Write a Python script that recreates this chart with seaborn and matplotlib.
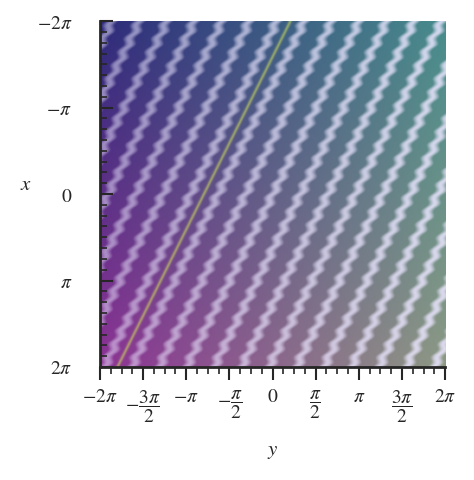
import numpy as np
import matplotlib
matplotlib.use("Agg")
import matplotlib.pyplot as plt
import seaborn as sns

sns.set_style("ticks")
plt.rcParams["font.family"] = ["Liberation Serif", "DejaVu Serif"]
plt.rcParams["mathtext.fontset"] = "stix"

# corner colours (top-left, top-right, bottom-left, bottom-right)
corner_tl = [0.18, 0.17, 0.48]
corner_tr = [0.28, 0.55, 0.55]
corner_bl = [0.55, 0.20, 0.58]
corner_br = [0.55, 0.60, 0.52]
stripe_period = 1.0
stripe_offset = -0.8 * np.pi
tick_vals = [-2, -1.5, -1, -0.5, 0, 0.5, 1, 1.5, 2]
xtick_labels = [r"$-2\pi$", r"$-\dfrac{3\pi}{2}$", r"$-\pi$", r"$-\dfrac{\pi}{2}$", r"$0$",
                r"$\dfrac{\pi}{2}$", r"$\pi$", r"$\dfrac{3\pi}{2}$", r"$2\pi$"]
ytick_vals = [-2, -1, 0, 1, 2]
ytick_labels = [r"$-2\pi$", r"$-\pi$", r"$0$", r"$\pi$", r"$2\pi$"]

n = 400
Y, X = np.meshgrid(np.linspace(-2*np.pi, 2*np.pi, n), np.linspace(-2*np.pi, 2*np.pi, n))
a = (Y + 2*np.pi) / (4*np.pi)
b = (X + 2*np.pi) / (4*np.pi)
tl, tr, bl, br = map(np.array, (corner_tl, corner_tr, corner_bl, corner_br))
base = ((1-a)*(1-b))[..., None]*tl + (a*(1-b))[..., None]*tr + ((1-a)*b)[..., None]*bl + (a*b)[..., None]*br
u = Y + X/2 + 0.07*np.sin(X*13)
s = np.maximum(0, np.cos(2*np.pi*u/stripe_period))**1.3
strength = (0.5 + 0.35*a)[..., None]
img = base*(1 - s[..., None]*strength) + np.array([0.92, 0.9, 1.0])*s[..., None]*strength
line = np.exp(-((Y + X/2 - stripe_offset)/0.06)**2)[..., None]
img = img*(1-0.6*line) + np.array([0.8, 0.85, 0.35])*0.6*line
img = np.clip(img, 0, 1)

fig = plt.figure(figsize=(4.74, 4.81), dpi=100)
ax = fig.add_axes([0.211, 0.235, 0.728, 0.719])
ax.imshow(img, extent=[-2*np.pi, 2*np.pi, 2*np.pi, -2*np.pi], aspect="auto", interpolation="bilinear")
ax.set_xlim(-2*np.pi, 2*np.pi)
ax.set_ylim(2*np.pi, -2*np.pi)
for sp in ["top", "right"]:
    ax.spines[sp].set_visible(False)
ax.spines["left"].set_linewidth(2)
ax.spines["bottom"].set_linewidth(2)
ax.set_xticks(np.array(tick_vals)*np.pi)
ax.set_xticklabels(xtick_labels, fontsize=14)
ax.set_yticks(np.array(ytick_vals)*np.pi)
ax.set_yticklabels(ytick_labels, fontsize=14)
ax.set_xticks(np.arange(-2, 2.01, 0.125)*np.pi, minor=True)
ax.set_yticks(np.arange(-2, 2.01, 0.125)*np.pi, minor=True)
ax.tick_params(axis="x", which="major", direction="out", length=9, width=1.5, pad=6)
ax.tick_params(axis="x", which="minor", direction="out", length=5, width=1.2)
ax.tick_params(axis="y", which="major", direction="in", length=9, width=1.5, pad=20)
ax.tick_params(axis="y", which="minor", direction="in", length=5, width=1.2)
ax.set_xlabel("$y$", fontsize=15, labelpad=12)
ax.set_ylabel("$x$", fontsize=15, rotation=0, labelpad=8)
fig.savefig("out.png", dpi=100)
